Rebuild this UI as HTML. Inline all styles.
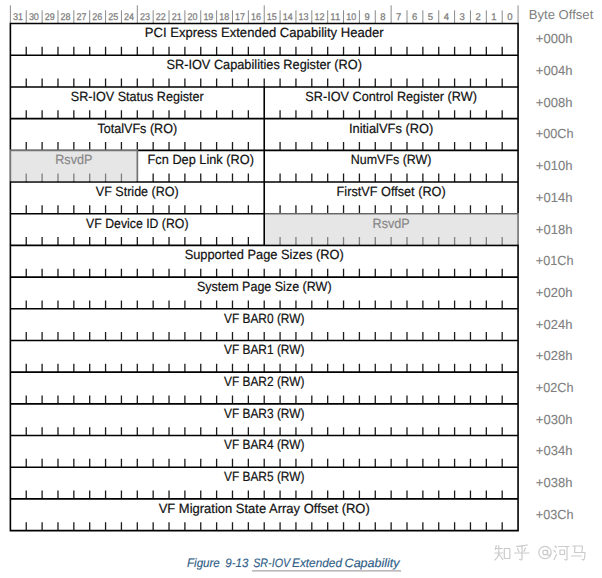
<!DOCTYPE html><html><head><meta charset="utf-8"><style>html,body{margin:0;padding:0;background:#fff;width:602px;height:578px;overflow:hidden}svg{display:block}text{font-family:"Liberation Sans",sans-serif;text-rendering:geometricPrecision}</style></head><body>
<svg width="602" height="578" viewBox="0 0 602 578">
<g stroke="#8a8a8a" stroke-width="1">
<line x1="10.38" y1="5.3" x2="10.38" y2="23.57"/>
<line x1="26.24" y1="10.3" x2="26.24" y2="23.57"/>
<line x1="42.11" y1="10.3" x2="42.11" y2="23.57"/>
<line x1="57.98" y1="10.3" x2="57.98" y2="23.57"/>
<line x1="73.84" y1="10.3" x2="73.84" y2="23.57"/>
<line x1="89.70" y1="10.3" x2="89.70" y2="23.57"/>
<line x1="105.57" y1="10.3" x2="105.57" y2="23.57"/>
<line x1="121.43" y1="10.3" x2="121.43" y2="23.57"/>
<line x1="137.30" y1="5.3" x2="137.30" y2="23.57"/>
<line x1="153.16" y1="10.3" x2="153.16" y2="23.57"/>
<line x1="169.03" y1="10.3" x2="169.03" y2="23.57"/>
<line x1="184.89" y1="10.3" x2="184.89" y2="23.57"/>
<line x1="200.76" y1="10.3" x2="200.76" y2="23.57"/>
<line x1="216.62" y1="10.3" x2="216.62" y2="23.57"/>
<line x1="232.49" y1="10.3" x2="232.49" y2="23.57"/>
<line x1="248.35" y1="10.3" x2="248.35" y2="23.57"/>
<line x1="264.22" y1="5.3" x2="264.22" y2="23.57"/>
<line x1="280.08" y1="10.3" x2="280.08" y2="23.57"/>
<line x1="295.95" y1="10.3" x2="295.95" y2="23.57"/>
<line x1="311.81" y1="10.3" x2="311.81" y2="23.57"/>
<line x1="327.68" y1="10.3" x2="327.68" y2="23.57"/>
<line x1="343.54" y1="10.3" x2="343.54" y2="23.57"/>
<line x1="359.41" y1="10.3" x2="359.41" y2="23.57"/>
<line x1="375.27" y1="10.3" x2="375.27" y2="23.57"/>
<line x1="391.14" y1="5.3" x2="391.14" y2="23.57"/>
<line x1="407.00" y1="10.3" x2="407.00" y2="23.57"/>
<line x1="422.87" y1="10.3" x2="422.87" y2="23.57"/>
<line x1="438.73" y1="10.3" x2="438.73" y2="23.57"/>
<line x1="454.60" y1="10.3" x2="454.60" y2="23.57"/>
<line x1="470.46" y1="10.3" x2="470.46" y2="23.57"/>
<line x1="486.33" y1="10.3" x2="486.33" y2="23.57"/>
<line x1="502.19" y1="10.3" x2="502.19" y2="23.57"/>
<line x1="518.06" y1="5.3" x2="518.06" y2="23.57"/>
</g>
<g fill="#7e7e7e" stroke="#7e7e7e" stroke-width="0.25" font-size="9.7" text-anchor="middle">
<text x="509.83" y="19.9" textLength="5.3" lengthAdjust="spacingAndGlyphs">0</text>
<text x="493.96" y="19.9" textLength="5.3" lengthAdjust="spacingAndGlyphs">1</text>
<text x="478.10" y="19.9" textLength="5.3" lengthAdjust="spacingAndGlyphs">2</text>
<text x="462.23" y="19.9" textLength="5.3" lengthAdjust="spacingAndGlyphs">3</text>
<text x="446.37" y="19.9" textLength="5.3" lengthAdjust="spacingAndGlyphs">4</text>
<text x="430.50" y="19.9" textLength="5.3" lengthAdjust="spacingAndGlyphs">5</text>
<text x="414.64" y="19.9" textLength="5.3" lengthAdjust="spacingAndGlyphs">6</text>
<text x="398.77" y="19.9" textLength="5.3" lengthAdjust="spacingAndGlyphs">7</text>
<text x="382.91" y="19.9" textLength="5.3" lengthAdjust="spacingAndGlyphs">8</text>
<text x="367.04" y="19.9" textLength="5.3" lengthAdjust="spacingAndGlyphs">9</text>
<text x="351.18" y="19.9" textLength="10.0" lengthAdjust="spacingAndGlyphs">10</text>
<text x="335.31" y="19.9" textLength="10.0" lengthAdjust="spacingAndGlyphs">11</text>
<text x="319.45" y="19.9" textLength="10.0" lengthAdjust="spacingAndGlyphs">12</text>
<text x="303.58" y="19.9" textLength="10.0" lengthAdjust="spacingAndGlyphs">13</text>
<text x="287.72" y="19.9" textLength="10.0" lengthAdjust="spacingAndGlyphs">14</text>
<text x="271.85" y="19.9" textLength="10.0" lengthAdjust="spacingAndGlyphs">15</text>
<text x="255.99" y="19.9" textLength="10.0" lengthAdjust="spacingAndGlyphs">16</text>
<text x="240.12" y="19.9" textLength="10.0" lengthAdjust="spacingAndGlyphs">17</text>
<text x="224.26" y="19.9" textLength="10.0" lengthAdjust="spacingAndGlyphs">18</text>
<text x="208.39" y="19.9" textLength="10.0" lengthAdjust="spacingAndGlyphs">19</text>
<text x="192.53" y="19.9" textLength="10.0" lengthAdjust="spacingAndGlyphs">20</text>
<text x="176.66" y="19.9" textLength="10.0" lengthAdjust="spacingAndGlyphs">21</text>
<text x="160.80" y="19.9" textLength="10.0" lengthAdjust="spacingAndGlyphs">22</text>
<text x="144.93" y="19.9" textLength="10.0" lengthAdjust="spacingAndGlyphs">23</text>
<text x="129.07" y="19.9" textLength="10.0" lengthAdjust="spacingAndGlyphs">24</text>
<text x="113.20" y="19.9" textLength="10.0" lengthAdjust="spacingAndGlyphs">25</text>
<text x="97.34" y="19.9" textLength="10.0" lengthAdjust="spacingAndGlyphs">26</text>
<text x="81.47" y="19.9" textLength="10.0" lengthAdjust="spacingAndGlyphs">27</text>
<text x="65.61" y="19.9" textLength="10.0" lengthAdjust="spacingAndGlyphs">28</text>
<text x="49.74" y="19.9" textLength="10.0" lengthAdjust="spacingAndGlyphs">29</text>
<text x="33.88" y="19.9" textLength="10.0" lengthAdjust="spacingAndGlyphs">30</text>
<text x="18.01" y="19.9" textLength="10.0" lengthAdjust="spacingAndGlyphs">31</text>
</g>
<text x="528.8" y="18.9" fill="#7d7d7d" font-size="13" textLength="64.5" lengthAdjust="spacingAndGlyphs">Byte Offset</text>
<path d="M26.24 55.26V46.86M42.11 55.26V46.86M57.98 55.26V46.86M73.84 55.26V46.86M89.70 55.26V46.86M105.57 55.26V46.86M121.43 55.26V46.86M137.30 55.26V46.86M153.16 55.26V46.86M169.03 55.26V46.86M184.89 55.26V46.86M200.76 55.26V46.86M216.62 55.26V46.86M232.49 55.26V46.86M248.35 55.26V46.86M264.22 55.26V46.86M280.08 55.26V46.86M295.95 55.26V46.86M311.81 55.26V46.86M327.68 55.26V46.86M343.54 55.26V46.86M359.41 55.26V46.86M375.27 55.26V46.86M391.14 55.26V46.86M407.00 55.26V46.86M422.87 55.26V46.86M438.73 55.26V46.86M454.60 55.26V46.86M470.46 55.26V46.86M486.33 55.26V46.86M502.19 55.26V46.86M26.24 86.95V78.55M42.11 86.95V78.55M57.98 86.95V78.55M73.84 86.95V78.55M89.70 86.95V78.55M105.57 86.95V78.55M121.43 86.95V78.55M137.30 86.95V78.55M153.16 86.95V78.55M169.03 86.95V78.55M184.89 86.95V78.55M200.76 86.95V78.55M216.62 86.95V78.55M232.49 86.95V78.55M248.35 86.95V78.55M264.22 86.95V78.55M280.08 86.95V78.55M295.95 86.95V78.55M311.81 86.95V78.55M327.68 86.95V78.55M343.54 86.95V78.55M359.41 86.95V78.55M375.27 86.95V78.55M391.14 86.95V78.55M407.00 86.95V78.55M422.87 86.95V78.55M438.73 86.95V78.55M454.60 86.95V78.55M470.46 86.95V78.55M486.33 86.95V78.55M502.19 86.95V78.55M26.24 118.64V110.24M42.11 118.64V110.24M57.98 118.64V110.24M73.84 118.64V110.24M89.70 118.64V110.24M105.57 118.64V110.24M121.43 118.64V110.24M137.30 118.64V110.24M153.16 118.64V110.24M169.03 118.64V110.24M184.89 118.64V110.24M200.76 118.64V110.24M216.62 118.64V110.24M232.49 118.64V110.24M248.35 118.64V110.24M280.08 118.64V110.24M295.95 118.64V110.24M311.81 118.64V110.24M327.68 118.64V110.24M343.54 118.64V110.24M359.41 118.64V110.24M375.27 118.64V110.24M391.14 118.64V110.24M407.00 118.64V110.24M422.87 118.64V110.24M438.73 118.64V110.24M454.60 118.64V110.24M470.46 118.64V110.24M486.33 118.64V110.24M502.19 118.64V110.24M26.24 150.33V141.93M42.11 150.33V141.93M57.98 150.33V141.93M73.84 150.33V141.93M89.70 150.33V141.93M105.57 150.33V141.93M121.43 150.33V141.93M137.30 150.33V141.93M153.16 150.33V141.93M169.03 150.33V141.93M184.89 150.33V141.93M200.76 150.33V141.93M216.62 150.33V141.93M232.49 150.33V141.93M248.35 150.33V141.93M280.08 150.33V141.93M295.95 150.33V141.93M311.81 150.33V141.93M327.68 150.33V141.93M343.54 150.33V141.93M359.41 150.33V141.93M375.27 150.33V141.93M391.14 150.33V141.93M407.00 150.33V141.93M422.87 150.33V141.93M438.73 150.33V141.93M454.60 150.33V141.93M470.46 150.33V141.93M486.33 150.33V141.93M502.19 150.33V141.93M26.24 182.02V173.62M42.11 182.02V173.62M57.98 182.02V173.62M73.84 182.02V173.62M89.70 182.02V173.62M105.57 182.02V173.62M121.43 182.02V173.62M153.16 182.02V173.62M169.03 182.02V173.62M184.89 182.02V173.62M200.76 182.02V173.62M216.62 182.02V173.62M232.49 182.02V173.62M248.35 182.02V173.62M280.08 182.02V173.62M295.95 182.02V173.62M311.81 182.02V173.62M327.68 182.02V173.62M343.54 182.02V173.62M359.41 182.02V173.62M375.27 182.02V173.62M391.14 182.02V173.62M407.00 182.02V173.62M422.87 182.02V173.62M438.73 182.02V173.62M454.60 182.02V173.62M470.46 182.02V173.62M486.33 182.02V173.62M502.19 182.02V173.62M26.24 213.71V205.31M42.11 213.71V205.31M57.98 213.71V205.31M73.84 213.71V205.31M89.70 213.71V205.31M105.57 213.71V205.31M121.43 213.71V205.31M137.30 213.71V205.31M153.16 213.71V205.31M169.03 213.71V205.31M184.89 213.71V205.31M200.76 213.71V205.31M216.62 213.71V205.31M232.49 213.71V205.31M248.35 213.71V205.31M280.08 213.71V205.31M295.95 213.71V205.31M311.81 213.71V205.31M327.68 213.71V205.31M343.54 213.71V205.31M359.41 213.71V205.31M375.27 213.71V205.31M391.14 213.71V205.31M407.00 213.71V205.31M422.87 213.71V205.31M438.73 213.71V205.31M454.60 213.71V205.31M470.46 213.71V205.31M486.33 213.71V205.31M502.19 213.71V205.31M26.24 245.40V237.00M42.11 245.40V237.00M57.98 245.40V237.00M73.84 245.40V237.00M89.70 245.40V237.00M105.57 245.40V237.00M121.43 245.40V237.00M137.30 245.40V237.00M153.16 245.40V237.00M169.03 245.40V237.00M184.89 245.40V237.00M200.76 245.40V237.00M216.62 245.40V237.00M232.49 245.40V237.00M248.35 245.40V237.00M280.08 245.40V237.00M295.95 245.40V237.00M311.81 245.40V237.00M327.68 245.40V237.00M343.54 245.40V237.00M359.41 245.40V237.00M375.27 245.40V237.00M391.14 245.40V237.00M407.00 245.40V237.00M422.87 245.40V237.00M438.73 245.40V237.00M454.60 245.40V237.00M470.46 245.40V237.00M486.33 245.40V237.00M502.19 245.40V237.00M26.24 277.09V268.69M42.11 277.09V268.69M57.98 277.09V268.69M73.84 277.09V268.69M89.70 277.09V268.69M105.57 277.09V268.69M121.43 277.09V268.69M137.30 277.09V268.69M153.16 277.09V268.69M169.03 277.09V268.69M184.89 277.09V268.69M200.76 277.09V268.69M216.62 277.09V268.69M232.49 277.09V268.69M248.35 277.09V268.69M264.22 277.09V268.69M280.08 277.09V268.69M295.95 277.09V268.69M311.81 277.09V268.69M327.68 277.09V268.69M343.54 277.09V268.69M359.41 277.09V268.69M375.27 277.09V268.69M391.14 277.09V268.69M407.00 277.09V268.69M422.87 277.09V268.69M438.73 277.09V268.69M454.60 277.09V268.69M470.46 277.09V268.69M486.33 277.09V268.69M502.19 277.09V268.69M26.24 308.78V300.38M42.11 308.78V300.38M57.98 308.78V300.38M73.84 308.78V300.38M89.70 308.78V300.38M105.57 308.78V300.38M121.43 308.78V300.38M137.30 308.78V300.38M153.16 308.78V300.38M169.03 308.78V300.38M184.89 308.78V300.38M200.76 308.78V300.38M216.62 308.78V300.38M232.49 308.78V300.38M248.35 308.78V300.38M264.22 308.78V300.38M280.08 308.78V300.38M295.95 308.78V300.38M311.81 308.78V300.38M327.68 308.78V300.38M343.54 308.78V300.38M359.41 308.78V300.38M375.27 308.78V300.38M391.14 308.78V300.38M407.00 308.78V300.38M422.87 308.78V300.38M438.73 308.78V300.38M454.60 308.78V300.38M470.46 308.78V300.38M486.33 308.78V300.38M502.19 308.78V300.38M26.24 340.47V332.07M42.11 340.47V332.07M57.98 340.47V332.07M73.84 340.47V332.07M89.70 340.47V332.07M105.57 340.47V332.07M121.43 340.47V332.07M137.30 340.47V332.07M153.16 340.47V332.07M169.03 340.47V332.07M184.89 340.47V332.07M200.76 340.47V332.07M216.62 340.47V332.07M232.49 340.47V332.07M248.35 340.47V332.07M264.22 340.47V332.07M280.08 340.47V332.07M295.95 340.47V332.07M311.81 340.47V332.07M327.68 340.47V332.07M343.54 340.47V332.07M359.41 340.47V332.07M375.27 340.47V332.07M391.14 340.47V332.07M407.00 340.47V332.07M422.87 340.47V332.07M438.73 340.47V332.07M454.60 340.47V332.07M470.46 340.47V332.07M486.33 340.47V332.07M502.19 340.47V332.07M26.24 372.16V363.76M42.11 372.16V363.76M57.98 372.16V363.76M73.84 372.16V363.76M89.70 372.16V363.76M105.57 372.16V363.76M121.43 372.16V363.76M137.30 372.16V363.76M153.16 372.16V363.76M169.03 372.16V363.76M184.89 372.16V363.76M200.76 372.16V363.76M216.62 372.16V363.76M232.49 372.16V363.76M248.35 372.16V363.76M264.22 372.16V363.76M280.08 372.16V363.76M295.95 372.16V363.76M311.81 372.16V363.76M327.68 372.16V363.76M343.54 372.16V363.76M359.41 372.16V363.76M375.27 372.16V363.76M391.14 372.16V363.76M407.00 372.16V363.76M422.87 372.16V363.76M438.73 372.16V363.76M454.60 372.16V363.76M470.46 372.16V363.76M486.33 372.16V363.76M502.19 372.16V363.76M26.24 403.85V395.45M42.11 403.85V395.45M57.98 403.85V395.45M73.84 403.85V395.45M89.70 403.85V395.45M105.57 403.85V395.45M121.43 403.85V395.45M137.30 403.85V395.45M153.16 403.85V395.45M169.03 403.85V395.45M184.89 403.85V395.45M200.76 403.85V395.45M216.62 403.85V395.45M232.49 403.85V395.45M248.35 403.85V395.45M264.22 403.85V395.45M280.08 403.85V395.45M295.95 403.85V395.45M311.81 403.85V395.45M327.68 403.85V395.45M343.54 403.85V395.45M359.41 403.85V395.45M375.27 403.85V395.45M391.14 403.85V395.45M407.00 403.85V395.45M422.87 403.85V395.45M438.73 403.85V395.45M454.60 403.85V395.45M470.46 403.85V395.45M486.33 403.85V395.45M502.19 403.85V395.45M26.24 435.54V427.14M42.11 435.54V427.14M57.98 435.54V427.14M73.84 435.54V427.14M89.70 435.54V427.14M105.57 435.54V427.14M121.43 435.54V427.14M137.30 435.54V427.14M153.16 435.54V427.14M169.03 435.54V427.14M184.89 435.54V427.14M200.76 435.54V427.14M216.62 435.54V427.14M232.49 435.54V427.14M248.35 435.54V427.14M264.22 435.54V427.14M280.08 435.54V427.14M295.95 435.54V427.14M311.81 435.54V427.14M327.68 435.54V427.14M343.54 435.54V427.14M359.41 435.54V427.14M375.27 435.54V427.14M391.14 435.54V427.14M407.00 435.54V427.14M422.87 435.54V427.14M438.73 435.54V427.14M454.60 435.54V427.14M470.46 435.54V427.14M486.33 435.54V427.14M502.19 435.54V427.14M26.24 467.23V458.83M42.11 467.23V458.83M57.98 467.23V458.83M73.84 467.23V458.83M89.70 467.23V458.83M105.57 467.23V458.83M121.43 467.23V458.83M137.30 467.23V458.83M153.16 467.23V458.83M169.03 467.23V458.83M184.89 467.23V458.83M200.76 467.23V458.83M216.62 467.23V458.83M232.49 467.23V458.83M248.35 467.23V458.83M264.22 467.23V458.83M280.08 467.23V458.83M295.95 467.23V458.83M311.81 467.23V458.83M327.68 467.23V458.83M343.54 467.23V458.83M359.41 467.23V458.83M375.27 467.23V458.83M391.14 467.23V458.83M407.00 467.23V458.83M422.87 467.23V458.83M438.73 467.23V458.83M454.60 467.23V458.83M470.46 467.23V458.83M486.33 467.23V458.83M502.19 467.23V458.83M26.24 498.92V490.52M42.11 498.92V490.52M57.98 498.92V490.52M73.84 498.92V490.52M89.70 498.92V490.52M105.57 498.92V490.52M121.43 498.92V490.52M137.30 498.92V490.52M153.16 498.92V490.52M169.03 498.92V490.52M184.89 498.92V490.52M200.76 498.92V490.52M216.62 498.92V490.52M232.49 498.92V490.52M248.35 498.92V490.52M264.22 498.92V490.52M280.08 498.92V490.52M295.95 498.92V490.52M311.81 498.92V490.52M327.68 498.92V490.52M343.54 498.92V490.52M359.41 498.92V490.52M375.27 498.92V490.52M391.14 498.92V490.52M407.00 498.92V490.52M422.87 498.92V490.52M438.73 498.92V490.52M454.60 498.92V490.52M470.46 498.92V490.52M486.33 498.92V490.52M502.19 498.92V490.52M26.24 530.61V522.21M42.11 530.61V522.21M57.98 530.61V522.21M73.84 530.61V522.21M89.70 530.61V522.21M105.57 530.61V522.21M121.43 530.61V522.21M137.30 530.61V522.21M153.16 530.61V522.21M169.03 530.61V522.21M184.89 530.61V522.21M200.76 530.61V522.21M216.62 530.61V522.21M232.49 530.61V522.21M248.35 530.61V522.21M264.22 530.61V522.21M280.08 530.61V522.21M295.95 530.61V522.21M311.81 530.61V522.21M327.68 530.61V522.21M343.54 530.61V522.21M359.41 530.61V522.21M375.27 530.61V522.21M391.14 530.61V522.21M407.00 530.61V522.21M422.87 530.61V522.21M438.73 530.61V522.21M454.60 530.61V522.21M470.46 530.61V522.21M486.33 530.61V522.21M502.19 530.61V522.21" stroke="#1c1c1c" stroke-width="1.3" fill="none"/>
<path d="M264.22 86.95V118.64M264.22 118.64V150.33M137.30 150.33V182.02M264.22 150.33V182.02M264.22 182.02V213.71M264.22 213.71V245.40M9.58 23.57H518.86M9.58 55.26H518.86M9.58 86.95H518.86M9.58 118.64H518.86M9.58 150.33H518.86M9.58 182.02H518.86M9.58 213.71H518.86M9.58 245.40H518.86M9.58 277.09H518.86M9.58 308.78H518.86M9.58 340.47H518.86M9.58 372.16H518.86M9.58 403.85H518.86M9.58 435.54H518.86M9.58 467.23H518.86M9.58 498.92H518.86M9.58 530.61H518.86M10.38 23.57V530.61M518.06 23.57V530.61" stroke="#000" stroke-width="1.6" fill="none"/>
<rect x="9.38" y="149.43" width="128.82" height="31.74" fill="rgb(210,210,210)" fill-opacity="0.55"/>
<rect x="265.07" y="213.11" width="253.99" height="31.44" fill="rgb(210,210,210)" fill-opacity="0.55"/>
<g font-size="13.4" text-anchor="middle"><text x="264.22" y="36.55" fill="#111" stroke="#111" stroke-width="0.2" textLength="238.73" lengthAdjust="spacingAndGlyphs">PCI Express Extended Capability Header</text><text x="264.22" y="68.75" fill="#111" stroke="#111" stroke-width="0.2" textLength="195.57" lengthAdjust="spacingAndGlyphs">SR-IOV Capabilities Register (RO)</text><text x="137.30" y="100.75" fill="#111" stroke="#111" stroke-width="0.2" textLength="132.86" lengthAdjust="spacingAndGlyphs">SR-IOV Status Register</text><text x="391.14" y="100.75" fill="#111" stroke="#111" stroke-width="0.2" textLength="171.60" lengthAdjust="spacingAndGlyphs">SR-IOV Control Register (RW)</text><text x="137.30" y="132.65" fill="#111" stroke="#111" stroke-width="0.2" textLength="79.73" lengthAdjust="spacingAndGlyphs">TotalVFs (RO)</text><text x="391.14" y="132.65" fill="#111" stroke="#111" stroke-width="0.2" textLength="84.48" lengthAdjust="spacingAndGlyphs">InitialVFs (RO)</text><text x="73.84" y="163.55" fill="#888888" stroke="#888888" stroke-width="0.2" textLength="37.17" lengthAdjust="spacingAndGlyphs">RsvdP</text><text x="200.76" y="163.55" fill="#111" stroke="#111" stroke-width="0.2" textLength="106.39" lengthAdjust="spacingAndGlyphs">Fcn Dep Link (RO)</text><text x="391.14" y="163.55" fill="#111" stroke="#111" stroke-width="0.2" textLength="80.71" lengthAdjust="spacingAndGlyphs">NumVFs (RW)</text><text x="137.30" y="195.55" fill="#111" stroke="#111" stroke-width="0.2" textLength="82.95" lengthAdjust="spacingAndGlyphs">VF Stride (RO)</text><text x="391.14" y="195.55" fill="#111" stroke="#111" stroke-width="0.2" textLength="109.08" lengthAdjust="spacingAndGlyphs">FirstVF Offset (RO)</text><text x="137.30" y="227.65" fill="#111" stroke="#111" stroke-width="0.2" textLength="102.39" lengthAdjust="spacingAndGlyphs">VF Device ID (RO)</text><text x="391.14" y="227.65" fill="#888888" stroke="#888888" stroke-width="0.2" textLength="37.17" lengthAdjust="spacingAndGlyphs">RsvdP</text><text x="264.22" y="258.65" fill="#111" stroke="#111" stroke-width="0.2" textLength="159.17" lengthAdjust="spacingAndGlyphs">Supported Page Sizes (RO)</text><text x="264.22" y="290.65" fill="#111" stroke="#111" stroke-width="0.2" textLength="134.69" lengthAdjust="spacingAndGlyphs">System Page Size (RW)</text><text x="264.22" y="322.55" fill="#111" stroke="#111" stroke-width="0.2" textLength="80.54" lengthAdjust="spacingAndGlyphs">VF BAR0 (RW)</text><text x="264.22" y="353.55" fill="#111" stroke="#111" stroke-width="0.2" textLength="80.54" lengthAdjust="spacingAndGlyphs">VF BAR1 (RW)</text><text x="264.22" y="385.55" fill="#111" stroke="#111" stroke-width="0.2" textLength="80.54" lengthAdjust="spacingAndGlyphs">VF BAR2 (RW)</text><text x="264.22" y="417.55" fill="#111" stroke="#111" stroke-width="0.2" textLength="80.54" lengthAdjust="spacingAndGlyphs">VF BAR3 (RW)</text><text x="264.22" y="448.65" fill="#111" stroke="#111" stroke-width="0.2" textLength="80.54" lengthAdjust="spacingAndGlyphs">VF BAR4 (RW)</text><text x="264.22" y="480.65" fill="#111" stroke="#111" stroke-width="0.2" textLength="80.54" lengthAdjust="spacingAndGlyphs">VF BAR5 (RW)</text><text x="264.22" y="512.75" fill="#111" stroke="#111" stroke-width="0.2" textLength="211.17" lengthAdjust="spacingAndGlyphs">VF Migration State Array Offset (RO)</text></g>
<g fill="#808080" stroke="#808080" stroke-width="0.12" font-size="13.2">
<text x="535.8" y="43.00" textLength="36.59" lengthAdjust="spacingAndGlyphs">+000h</text>
<text x="535.8" y="75.00" textLength="36.59" lengthAdjust="spacingAndGlyphs">+004h</text>
<text x="535.8" y="107.00" textLength="36.59" lengthAdjust="spacingAndGlyphs">+008h</text>
<text x="535.8" y="138.00" textLength="37.66" lengthAdjust="spacingAndGlyphs">+00Ch</text>
<text x="535.8" y="170.00" textLength="36.59" lengthAdjust="spacingAndGlyphs">+010h</text>
<text x="535.8" y="202.00" textLength="36.59" lengthAdjust="spacingAndGlyphs">+014h</text>
<text x="535.8" y="234.00" textLength="36.59" lengthAdjust="spacingAndGlyphs">+018h</text>
<text x="535.8" y="265.00" textLength="37.66" lengthAdjust="spacingAndGlyphs">+01Ch</text>
<text x="535.8" y="297.00" textLength="36.59" lengthAdjust="spacingAndGlyphs">+020h</text>
<text x="535.8" y="329.00" textLength="36.59" lengthAdjust="spacingAndGlyphs">+024h</text>
<text x="535.8" y="360.00" textLength="36.59" lengthAdjust="spacingAndGlyphs">+028h</text>
<text x="535.8" y="392.00" textLength="37.66" lengthAdjust="spacingAndGlyphs">+02Ch</text>
<text x="535.8" y="424.00" textLength="36.59" lengthAdjust="spacingAndGlyphs">+030h</text>
<text x="535.8" y="455.00" textLength="36.59" lengthAdjust="spacingAndGlyphs">+034h</text>
<text x="535.8" y="487.00" textLength="36.59" lengthAdjust="spacingAndGlyphs">+038h</text>
<text x="535.8" y="519.00" textLength="37.66" lengthAdjust="spacingAndGlyphs">+03Ch</text>
</g>
<g font-size="12.2" font-style="italic" fill="#2f5d86" stroke="#2f5d86" stroke-width="0.15">
<text x="187.0" y="566.6" textLength="32.8" lengthAdjust="spacingAndGlyphs">Figure</text>
<text x="225.2" y="566.6" textLength="23.2" lengthAdjust="spacingAndGlyphs">9-13</text>
<text x="253.2" y="566.6" textLength="37.0" lengthAdjust="spacingAndGlyphs">SR-IOV</text>
<text x="292.0" y="566.6" textLength="50.0" lengthAdjust="spacingAndGlyphs">Extended</text>
<text x="344.6" y="566.6" textLength="55.0" lengthAdjust="spacingAndGlyphs">Capability</text>
</g>
<line x1="252" y1="570.8" x2="401" y2="570.8" stroke="#aba3a6" stroke-width="1.25"/>
<g fill="none" stroke="#cbcbcb" stroke-width="1.2" stroke-linecap="round" stroke-linejoin="round">
<path transform="translate(494.3,544.5)" d="M2 1L1 5M1.5 4H8M0.5 8.5H8.5M4.5 1V8.5Q4 13 0.5 15.5M5 10L8.5 15M10 4H15.5V14H10Z"/>
<path transform="translate(513.5,544.5)" d="M3 1.8Q9 1.6 14 0.5M4 4L5.5 7M12 3.5L10.5 7M1 8.5H15.5M8.5 2V14.5Q8.5 16 6 15"/>
<path transform="translate(553.5,544.5)" d="M1.5 1.5L3 3M0.5 6L2 7.5M0.5 15L3 10M5 2H15.5M6.5 5.5H11V10H6.5ZM13.5 2V15Q13.5 16 11.5 15"/>
<path transform="translate(570.5,544.5)" d="M2 1.5H12L11.5 7M4.5 1.5L4 8H14.5Q14.5 14 13 15.5L11.5 15M1 11.5H11"/>
<circle cx="545" cy="552.5" r="6.2"/><circle cx="545.2" cy="552.5" r="2.4"/><path d="M547.6 550V554.5Q548.5 556.5 550.5 554.5"/>
</g>
</svg></body></html>
